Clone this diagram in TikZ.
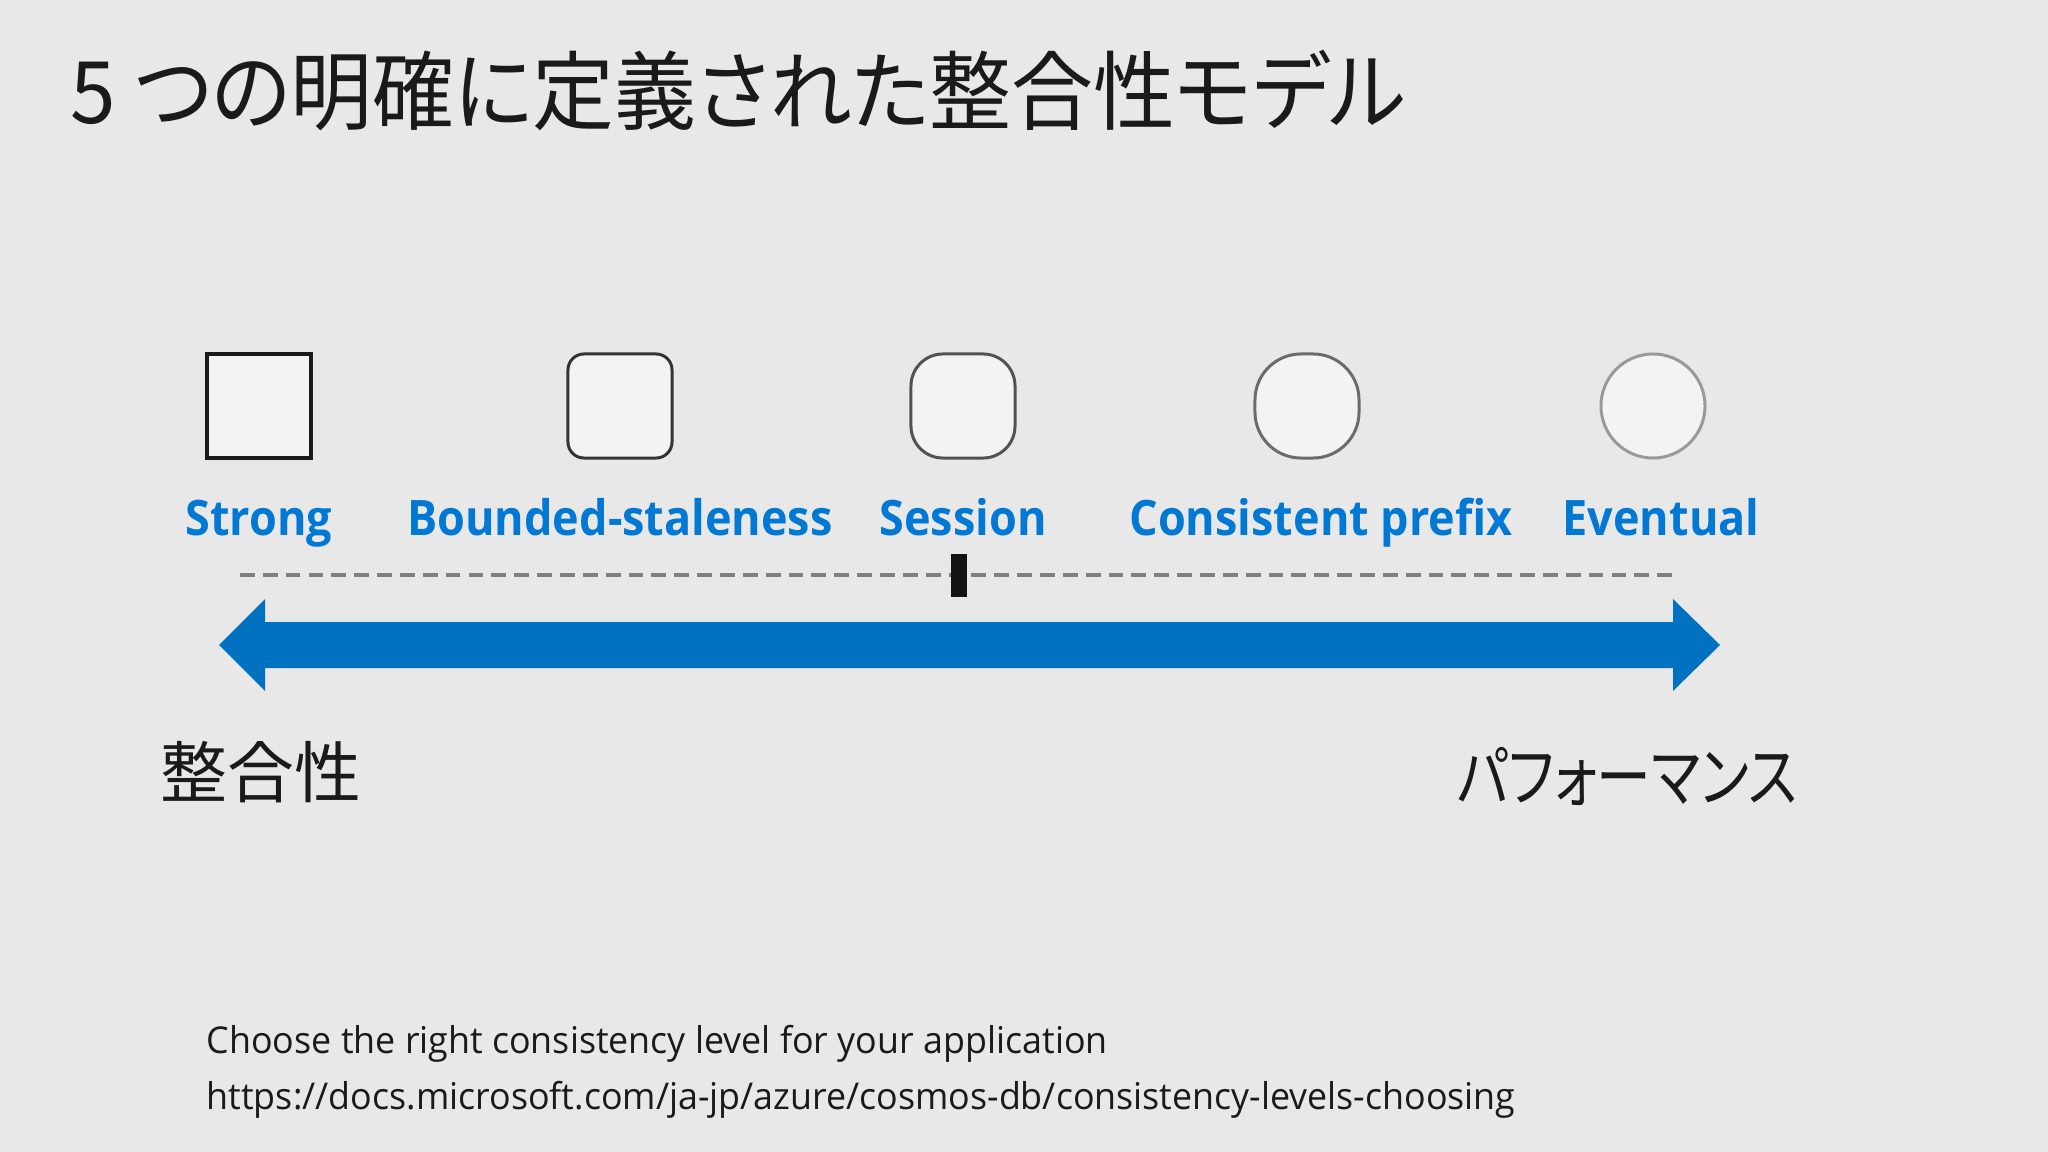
\documentclass[tikz,border=0pt]{standalone}
\usepackage{fontspec}
\setmainfont{Open Sans}
\newfontfamily\jpfont{Noto Sans CJK JP}
\newfontfamily\jptitle{Noto Sans CJK JP}[RawFeature=+palt, FakeStretch=0.95]
\newfontfamily\jpnarrow{Noto Sans CJK JP}[RawFeature=+palt, FakeStretch=0.82]
\newfontfamily\lblfont{Open Sans}[FakeStretch=0.92]
\newfontfamily\notefont{Open Sans}[FakeStretch=0.97]
\definecolor{bg}{HTML}{E8E8E8}
\definecolor{msblue}{HTML}{0078D4}
\definecolor{arrowblue}{HTML}{0070C0}
\definecolor{boxfill}{HTML}{F3F3F3}
\definecolor{ink}{HTML}{1A1A1A}
\definecolor{dashgray}{HTML}{808080}
\tikzset{
  level/.style={draw, fill=boxfill, line width=0.85pt, minimum width=1.04cm, minimum height=1.04cm, inner sep=0pt},
  levellabel/.style={font=\lblfont\bfseries\fontsize{13.9pt}{16pt}\selectfont, text=msblue, anchor=base, inner sep=0pt},
  jplabel/.style={font=\jpfont\fontsize{19pt}{22pt}\selectfont, text=ink, inner sep=0pt},
  notetext/.style={font=\notefont\fontsize{10.5pt}{13pt}\selectfont, text=ink, anchor=base west, inner sep=0pt},
}
\begin{document}
\begin{tikzpicture}[x=0.01cm, y=-0.01cm]
\fill[bg] (0,0) rectangle (2048,1152);
\useasboundingbox (0,0) rectangle (2048,1152);
% title
\node[anchor=base west, inner sep=0pt, text=ink, font=\jptitle\fontsize{24.5pt}{28pt}\selectfont] (title) at (70,124) {5 つの明確に定義された整合性モデル};
% level shapes
\node[level, draw=ink, line width=1pt] (strong) at (259,406) {};
\node[level, draw=black!80, rounded corners=0.16cm] (bounded) at (620,406) {};
\node[level, draw=black!68, rounded corners=0.32cm] (session) at (963,406) {};
\node[level, draw=black!58, rounded corners=0.46cm] (prefix) at (1307,406) {};
\node[level, draw=black!40, circle, minimum size=1.04cm] (eventual) at (1653,406) {};
% labels
\node[levellabel] (lstrong) at (259,536) {Strong};
\node[levellabel] (lbounded) at (620,536) {Bounded-staleness};
\node[levellabel] (lsession) at (963,536) {Session};
\node[levellabel] (lprefix) at (1321,536) {Consistent prefix};
\node[levellabel] (leventual) at (1661,536) {Eventual};
% dashed scale with marker
\coordinate (dl) at (240,575);
\coordinate (dr) at (1672,575);
\draw[dashgray, line width=1.2pt, dash pattern=on 4.2pt off 2.3pt] (dl) -- (dr);
\node[fill=black!92, minimum width=0.16cm, minimum height=0.43cm, inner sep=0pt] (marker) at (959,575.5) {};
% big double arrow
\coordinate (tipL) at (219,645);
\coordinate (tipR) at (1720,645);
\fill[arrowblue] (tipL) -- (265,599) -- (265,622) -- (1673,622) -- (1673,599) -- (tipR)
  -- (1673,691) -- (1673,668) -- (265,668) -- (265,691) -- cycle;
% end labels
\node[jplabel] (cons) at (261,772) {整合性};
\node[jplabel, font=\jpnarrow\fontsize{19pt}{22pt}\selectfont] (perf) at (1627,777) {パフォーマンス};
% footnote
\node[notetext] (note1) at (206,1053) {Choose the right consistency level for your application};
\node[notetext] (note2) at (206,1109) {https://docs.microsoft.com/ja-jp/azure/cosmos-db/consistency-levels-choosing};
\end{tikzpicture}
\end{document}
